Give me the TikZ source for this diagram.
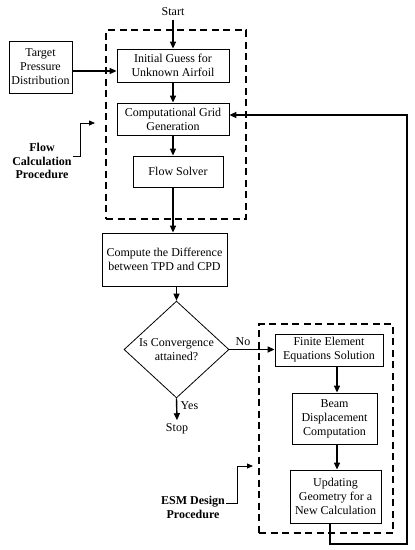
\documentclass[tikz,border=0pt]{standalone}
\usepackage{fontspec}
\setmainfont{Liberation Serif}
\usepackage{tikz}
\usetikzlibrary{shapes.geometric,arrows.meta,positioning,calc}

\begin{document}
\begin{tikzpicture}[
    x=1pt, y=-1pt,
    font=\fontsize{12}{14}\selectfont,
    process/.style={rectangle, draw, line width=0.8pt, align=center, inner sep=1pt},
    decision/.style={diamond, draw, line width=0.8pt, align=center, inner sep=0pt, minimum width=105pt, minimum height=73pt},
    group/.style={rectangle, draw, line width=1.1pt, dash pattern=on 7pt off 4.5pt, minimum width=#1},
    dataflow/.style={-{Triangle[length=7pt,width=6pt]}, line width=1.4pt},
    pointer/.style={-{Triangle[length=6pt,width=5pt]}, line width=0.8pt},
    tag/.style={font=\fontsize{12}{13.5}\selectfont\bfseries, align=center, inner sep=1pt}
]
\useasboundingbox (0,0) rectangle (415,550);

% dashed groups
\node[group=140pt, minimum height=189pt] (flowgroup) at (176,124.5) {};
\node[group=134pt, minimum height=209pt] (esmgroup) at (326,428.5) {};

% flow calculation part
\node (start) at (173,12) {Start};
\node[process, minimum width=112pt, minimum height=33pt] (init) at (173,65.5) {Initial Guess for\\Unknown Airfoil};
\node[process, minimum width=63pt, minimum height=52pt] (target) at (40.5,67) {Target\\Pressure\\Distribution};
\node[process, minimum width=112pt, minimum height=32pt] (grid) at (173,119) {Computational Grid\\Generation};
\node[process, minimum width=90pt, minimum height=31pt] (solver) at (178,171.5) {Flow Solver};
\node[process, minimum width=125pt, minimum height=53pt] (compute) at (164.5,259.5) {Compute the Difference\\between TPD and CPD};
\node[decision] (conv) at (176.5,349.5) {Is Convergence\\attained?};
\node (stop) at (177,429) {Stop};

% ESM part
\node[process, minimum width=108pt, minimum height=32pt] (fe) at (329,350) {Finite Element\\Equations Solution};
\node[process, minimum width=85pt, minimum height=51pt] (beam) at (334.5,418.5) {Beam\\Displacement\\Computation};
\node[process, minimum width=91pt, minimum height=53pt] (update) at (335.5,496.5) {Updating\\Geometry for a\\New Calculation};

% group labels
\node[tag] (flowlabel) at (42,161) {Flow\\Calculation\\Procedure};
\node[tag] (esmlabel) at (193,507.5) {ESM Design\\Procedure};
\coordinate (flowtip) at (95,123);
\coordinate (esmtip) at (253,466);
\coordinate (corner) at (407,544);

\draw[dataflow] (start) -- (init);
\draw[dataflow] ([yshift=-4pt]target.east) -- ([yshift=-4pt]target.east -| init.west);
\draw[dataflow] (init) -- (grid);
\draw[dataflow] (grid.south) -- (grid.south |- solver.north);
\draw[dataflow] (grid.south |- solver.south) -- (grid.south |- compute.north);
\draw[dataflow] (compute.south -| conv.north) -- (conv.north);
\draw[dataflow] (conv.east) -- node[above, pos=0.3] {No} (conv.east -| fe.west);
\draw[dataflow] (conv.south) -- node[right, pos=0.35] {Yes} (stop.north);
\draw[dataflow] (fe.south -| 337,0) -- (beam.north -| 337,0);
\draw[dataflow] (beam.south -| 337,0) -- (update.north -| 337,0);
\draw[dataflow] (update.south -| 330,0) |- (corner) |- ([yshift=4pt]grid.east);

\draw[pointer] ([yshift=5pt]flowlabel.east) -- ++(8,0) |- (flowtip);
\draw[pointer] ([yshift=4.5pt]esmlabel.east) -- ++(11,0) |- (esmtip);

\end{tikzpicture}
\end{document}
